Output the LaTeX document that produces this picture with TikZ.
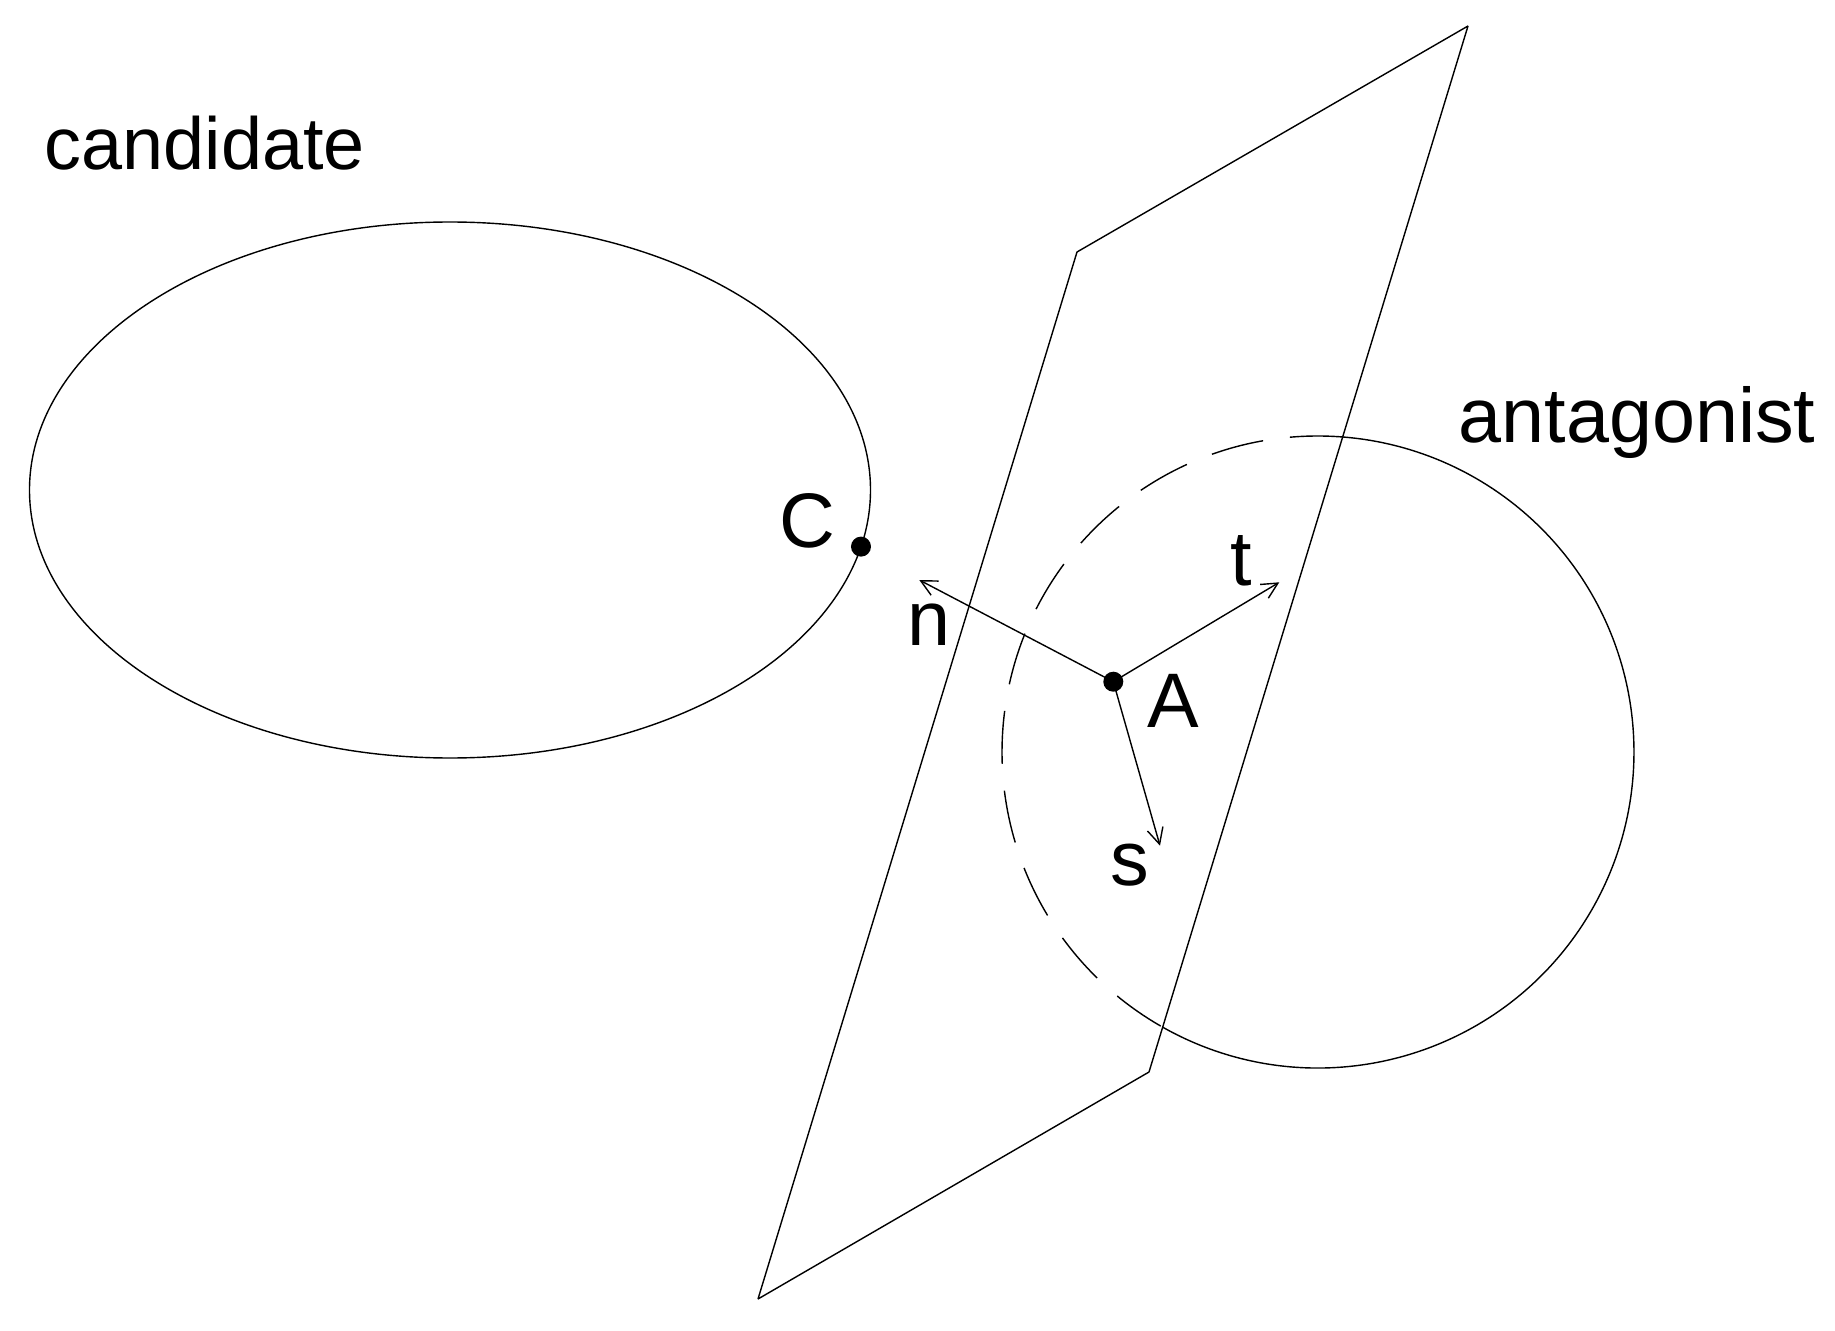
\documentclass[tikz,border=0pt]{standalone}
\usepackage{fontspec}
\setmainfont{Liberation Sans}
\usetikzlibrary{positioning,arrows.meta}

\begin{document}
\begin{tikzpicture}[>={Straight Barb[length=1.6mm,width=1.6mm]},line join=bevel,thin,
  lbl/.style={draw=none,inner sep=0pt,anchor=base,font=\fontsize{22pt}{26pt}\selectfont},
  dot/.style={circle,fill=black,inner sep=0pt,minimum size=2mm},
  hidden/.style={dash pattern=on 5.3mm off 2.7mm}]
%%
  \useasboundingbox (0,0) rectangle (18.35,-13.31);

  % candidate
  \coordinate (cand) at (4.50,-4.90);
  \draw (cand) ellipse [x radius=4.205, y radius=2.68];
  \node (label_cand) at (2.05,-1.70) [lbl,font=\fontsize{21pt}{25pt}\selectfont] {candidate};
  \node (pt_C) at ([shift={(cand)}]-12.2:4.205 and 2.68) [dot] {};
  \node (label_C) at (8.075,-5.48) [lbl] {C};

  % antagonist
  \coordinate (ant) at (13.18,-7.52);
  \draw ([shift={(ant)}]-119.4:3.16) arc [start angle=-119.4, end angle=85.5, radius=3.16];
  \draw [hidden] ([shift={(ant)}]85.5:3.16) arc [start angle=85.5, end angle=240.6, radius=3.16];
  \node (label_ant) at (16.37,-4.43) [lbl] {antagonist};

  % plane
  \coordinate (plane_tr) at (14.68,-0.26);
  \coordinate (plane_tl) at (10.77,-2.52);
  \coordinate (plane_bl) at (7.58,-12.99);
  \coordinate (plane_br) at (11.49,-10.72);
  \draw (plane_tr) -- (plane_tl) -- (plane_bl) -- (plane_br) -- cycle;

  % frame at A
  \node (pt_A) at (11.133,-6.817) [dot] {};
  \coordinate (tip_n) at (9.193,-5.800);
  \coordinate (tip_t) at (12.793,-5.823);
  \coordinate (tip_s) at (11.600,-8.457);

  \draw [black,->] (pt_A.center) -- (tip_n);
  \draw [black,->] (pt_A.center) -- (tip_t);
  \draw [black,->] (pt_A.center) -- (tip_s);

  \node (label_A) at (11.73,-7.27) [lbl] {A};
  \node (label_n) at (9.29,-6.45) [lbl] {n};
  \node (label_t) at (12.41,-5.85) [lbl] {t};
  \node (label_s) at (11.30,-8.85) [lbl] {s};
%
\end{tikzpicture}
\end{document}
